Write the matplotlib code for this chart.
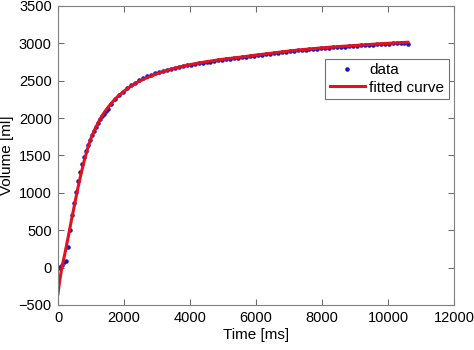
import matplotlib
matplotlib.use("Agg")
import matplotlib.pyplot as plt

plt.rcParams['font.family'] = ['Liberation Sans', 'DejaVu Sans']

# measured samples
time_ms = [0, 60, 120, 180, 240, 300, 360, 420, 480, 540, 600, 660, 720, 780,
           840, 900, 960, 1020, 1080, 1140, 1200, 1260, 1320, 1380, 1440, 1500,
           1620, 1740, 1860, 1980, 2100, 2220, 2340, 2460, 2580, 2700, 2820,
           2940, 3060, 3180, 3300, 3420, 3540, 3660, 3780, 3900, 4020, 4140,
           4260, 4380, 4500, 4620, 4740, 4860, 4980, 5100, 5220, 5340, 5460,
           5580, 5700, 5820, 5940, 6060, 6180, 6300, 6420, 6540, 6660, 6780,
           6900, 7020, 7140, 7260, 7380, 7500, 7620, 7740, 7860, 7980, 8100,
           8220, 8340, 8460, 8580, 8700, 8820, 8940, 9060, 9180, 9300, 9420,
           9540, 9660, 9780, 9900, 10020, 10140, 10260, 10380, 10500, 10620]
volume_ml = [0, 5, 30, 75, 95, 270, 500, 700, 865, 1015, 1155, 1280, 1390, 1480,
             1560, 1635, 1705, 1770, 1830, 1885, 1938, 1982, 2022, 2060, 2095, 2128,
             2195, 2255, 2308, 2356, 2400, 2440, 2476, 2508, 2535, 2558, 2579,
             2598, 2616, 2632, 2646, 2659, 2672, 2684, 2695, 2705, 2715, 2724,
             2732, 2740, 2748, 2756, 2764, 2772, 2780, 2787, 2794, 2801, 2808,
             2814, 2820, 2827, 2834, 2841, 2848, 2855, 2862, 2868, 2874, 2880,
             2887, 2893, 2899, 2905, 2910, 2915, 2920, 2925, 2930, 2934, 2938,
             2942, 2946, 2950, 2954, 2958, 2962, 2965, 2969, 2972, 2976, 2980,
             2983, 2987, 2990, 2994, 2997, 3000, 3003, 3006, 3009, 2985]

# fitted model evaluated on a grid
fit_t = [0, 50, 100, 150, 200, 250, 300, 400, 500, 600, 700, 800, 900, 1000,
         1100, 1200, 1300, 1400, 1500, 1600, 1700, 1800, 2000, 2200, 2400,
         2600, 2800, 3000, 3250, 3500, 4000, 4500, 5000, 5500, 6000, 6500,
         7000, 7500, 8000, 8500, 9000, 9500, 10000, 10600]
fit_v = [-350, -180, -40, 70, 170, 280, 390, 620, 840, 1060, 1260, 1440, 1600,
         1730, 1835, 1925, 2005, 2075, 2135, 2190, 2240, 2285, 2360, 2425, 2478,
         2522, 2560, 2594, 2632, 2664, 2715, 2755, 2788, 2814, 2843, 2870,
         2898, 2920, 2940, 2957, 2972, 2987, 3000, 3015]

fig = plt.figure(figsize=(4.74, 3.5), dpi=100)
ax = fig.add_axes([0.1224, 0.1286, 0.8354, 0.8543])

ax.plot(time_ms, volume_ml, '.', color='#1414c8', markersize=4.5, label='data')
ax.plot(fit_t, fit_v, '-', color='#e3101e', linewidth=2.2, label='fitted curve')

ax.set_xlim(0, 12000)
ax.set_ylim(-500, 3500)
ax.set_xticks(range(0, 12001, 2000))
ax.set_yticks(range(-500, 3501, 500))
ax.tick_params(direction='in', top=True, right=True, labelsize=10.5,
               length=4, color='#707070', pad=4.5)
for s in ax.spines.values():
    s.set_color('#808080')
    s.set_linewidth(0.8)

ax.set_xlabel('Time [ms]', fontsize=11, labelpad=2)
ax.set_ylabel('Volume [ml]', fontsize=11, labelpad=3)

leg = ax.legend(loc='upper right', bbox_to_anchor=(0.987, 0.823), fontsize=11,
                fancybox=False, edgecolor='#707070', framealpha=1,
                handlelength=2.3, handletextpad=0.3, borderpad=0.3,
                labelspacing=0.2, borderaxespad=0)
leg.get_frame().set_linewidth(0.8)

fig.savefig('out.png', dpi=100)
